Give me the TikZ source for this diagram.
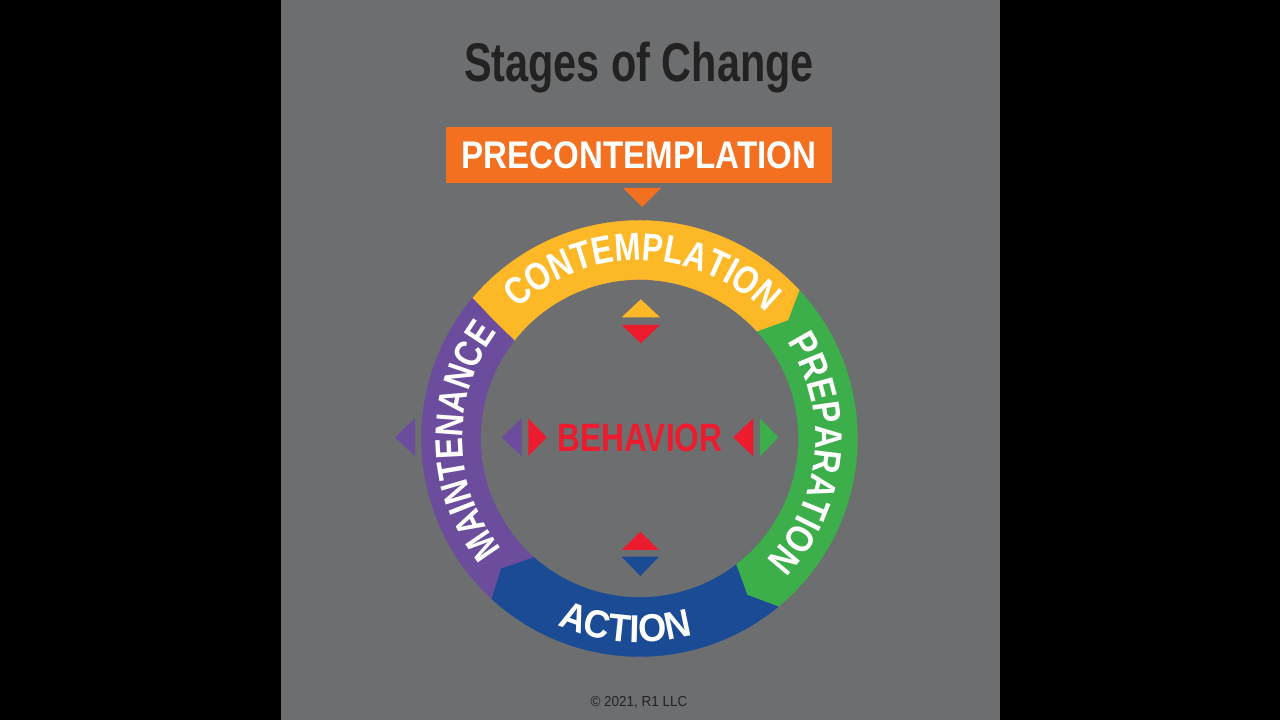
\documentclass[tikz,border=0pt]{standalone}
\usepackage{fontspec}
\setmainfont{Liberation Sans}
\usetikzlibrary{decorations.text}
\newfontfamily\fTitle[FakeStretch=0.76]{Liberation Sans}
\newfontfamily\fPre[FakeStretch=0.86]{Liberation Sans}
\newfontfamily\fBeh[FakeStretch=0.80]{Liberation Sans}
\newfontfamily\fRing[FakeStretch=0.81]{Liberation Sans}
\newfontfamily\fRingP[FakeStretch=0.845]{Liberation Sans}
\newfontfamily\fRingA[FakeStretch=0.93]{Liberation Sans}
\newfontfamily\fCopy[FakeStretch=0.93]{Liberation Sans}
\newcommand\ringC{\fRing\bfseries\fontsize{39}{39}\selectfont}
\newcommand\ringP{\fRingP\bfseries\fontsize{38.5}{39}\selectfont}
\newcommand\ringA{\fRingA\bfseries\fontsize{39}{39}\selectfont}
\definecolor{bggray}{HTML}{6D6E70}
\definecolor{titlecol}{HTML}{222223}
\definecolor{orangeC}{HTML}{F37021}
\definecolor{yellowC}{HTML}{FDB827}
\definecolor{greenC}{HTML}{3CAE4A}
\definecolor{blueC}{HTML}{1B4B95}
\definecolor{purpleC}{HTML}{6B4C9D}
\definecolor{redC}{HTML}{EC1C2E}
\begin{document}
\begin{tikzpicture}[x=1pt,y=1pt,
  seg/.style={fill=#1, draw=#1, line width=0.4pt, line join=miter},
  tri/.style={fill=#1, draw=none},
  ringtext/.style={decorate, decoration={text along path, text align=center, text color=white, text={#1}}}]
\fill[black] (0,0) rectangle (1280,720);
\fill[bggray] (281,0) rectangle (1000,720);
\useasboundingbox (0,0) rectangle (1280,720);

\node[anchor=base, text=titlecol, inner sep=0,
  font=\fTitle\bfseries\fontsize{54.5}{60}\selectfont] (title) at (639,638) {Stages of Change};

\node[fill=orangeC, minimum width=386, minimum height=56, inner sep=0, text=white,
  font=\fPre\bfseries\fontsize{38.5}{40}\selectfont] (pre) at (639,565) {PRECONTEMPLATION};
\fill[orangeC] (623,532) -- (661,532) -- (642,513) -- cycle;

\coordinate (C) at (639.5,281.5);
\begin{scope}[shift={(C)}]
  % yellow
  \path[seg=yellowC] (140:218) arc[start angle=140, end angle=42.7, radius=218]
     -- (38.4:190) -- (42.2:159) arc[start angle=42.2, end angle=142, radius=159]
     -- (141:188.5) -- cycle;
  % green
  \path[seg=greenC] (42.7:218) arc[start angle=42.7, end angle=-50.5, radius=218]
     -- (-55.5:190) -- (-52.6:159) arc[start angle=-52.6, end angle=42.2, radius=159]
     -- (38.4:190) -- cycle;
  % blue
  \path[seg=blueC] (-50.5:218) arc[start angle=-50.5, end angle=-132.8, radius=218]
     -- (-136.9:190) -- (-131.8:159) arc[start angle=-131.8, end angle=-52.6, radius=159]
     -- (-55.5:190) -- cycle;
  % purple
  \path[seg=purpleC] (-132.8:218) arc[start angle=-132.8, end angle=-220, radius=218]
     -- (141:188.5) -- (142:159) arc[start angle=142, end angle=228.2, radius=159]
     -- (-136.9:190) -- cycle;
  % ring texts
  \path[ringtext={|\ringC|CONTEMPLATION}] (149:178) arc[start angle=149, end angle=29, radius=178];
  \path[ringtext={|\ringP|PREPARATION}] (54.65:176) arc[start angle=54.65, end angle=-65.35, radius=176];
  \path[ringtext={|\ringC|MAINTENANCE}] (241:177) arc[start angle=241, end angle=121, radius=177];
  \path[ringtext={|\ringA|ACTION}] (-139.25:204) arc[start angle=-139.25, end angle=-49.25, radius=204];
\end{scope}

% inner triangles top
\fill[yellowC] (621.7,402.7) -- (660,402.7) -- (640.8,420.7) -- cycle;
\fill[redC] (621.7,395) -- (660,395) -- (640.8,376.7) -- cycle;
% inner triangles bottom
\fill[redC] (621.7,170) -- (659,170) -- (640.3,188.3) -- cycle;
\fill[blueC] (621.7,163.3) -- (659,163.3) -- (640.3,144) -- cycle;
% row triangles
\fill[purpleC] (415,301.7) -- (415,263.7) -- (395,282.7) -- cycle;
\fill[purpleC] (521.7,301.7) -- (521.7,263.7) -- (501.7,282.7) -- cycle;
\fill[redC] (528.3,301.7) -- (528.3,263.7) -- (546.7,282.7) -- cycle;
\fill[redC] (753.3,301.7) -- (753.3,263.7) -- (733.3,282.7) -- cycle;
\fill[greenC] (760,301.7) -- (760,263.7) -- (778.3,282.7) -- cycle;

\node[anchor=base, text=redC, inner sep=0,
  font=\fBeh\bfseries\fontsize{39.5}{40}\selectfont] (beh) at (640,268.3) {BEHAVIOR};

\node[anchor=base, text=titlecol, inner sep=0,
  font=\fCopy\fontsize{14.5}{16}\selectfont] (copy) at (639,13.3) {© 2021, R1 LLC};
\end{tikzpicture}
\end{document}
